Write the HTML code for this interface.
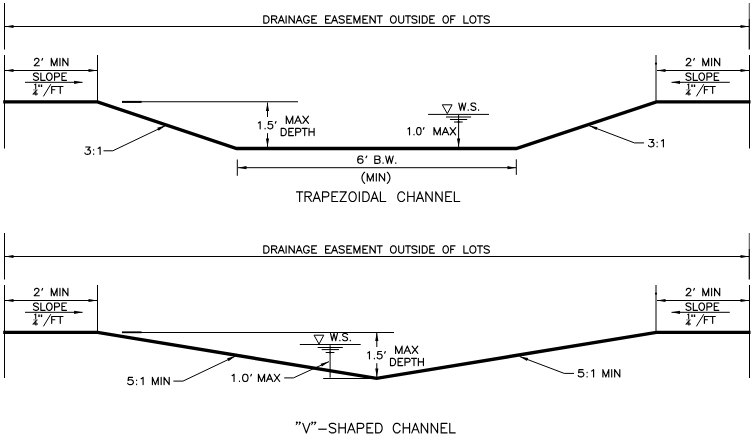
<!DOCTYPE html>
<html><head><meta charset="utf-8"><style>
html,body{margin:0;padding:0;background:#fff;width:753px;height:437px;overflow:hidden}
svg{display:block}
text{font-family:"Liberation Sans",sans-serif;fill:#000;font-kerning:none;text-rendering:geometricPrecision;stroke:#fff;stroke-width:0.25px;paint-order:fill stroke}
</style></head><body>
<svg width="753" height="437" viewBox="0 0 753 437">
<rect width="753" height="437" fill="#fff"/>
<line x1="4.50" y1="3.00" x2="4.50" y2="49.50" stroke="#000" stroke-width="1"/>
<line x1="749.30" y1="3.00" x2="749.30" y2="19.00" stroke="#555" stroke-width="1.1"/>
<line x1="749.30" y1="19.00" x2="749.30" y2="49.50" stroke="#000" stroke-width="1.2"/>
<line x1="5.00" y1="26.50" x2="749.00" y2="26.50" stroke="#000" stroke-width="1"/>
<path d="M5.00,26.50 L13.50,24.90 L13.50,28.10Z" fill="#000"/>
<path d="M749.00,26.50 L740.50,28.10 L740.50,24.90Z" fill="#000"/>
<path d="M263.80,15.84 L263.80,23.10M263.80,15.84 L266.40,15.84 L267.52,16.19 L268.26,16.88 L268.63,17.57 L269.01,18.61 L269.01,20.34 L268.63,21.37 L268.26,22.06 L267.52,22.75 L266.40,23.10 L263.80,23.10M271.61,15.84 L271.61,23.10M271.61,15.84 L274.95,15.84 L276.07,16.19 L276.44,16.54 L276.81,17.23 L276.81,17.92 L276.44,18.61 L276.07,18.95 L274.95,19.30 L271.61,19.30M274.21,19.30 L276.81,23.10M281.28,15.84 L278.30,23.10M281.28,15.84 L284.25,23.10M279.42,20.68 L283.14,20.68M286.11,15.84 L286.11,23.10M289.08,15.84 L289.08,23.10M289.08,15.84 L294.29,23.10M294.29,15.84 L294.29,23.10M299.12,15.84 L296.15,23.10M299.12,15.84 L302.10,23.10M297.26,20.68 L300.98,20.68M309.16,17.57 L308.79,16.88 L308.05,16.19 L307.30,15.84 L305.82,15.84 L305.07,16.19 L304.33,16.88 L303.96,17.57 L303.59,18.61 L303.59,20.34 L303.96,21.37 L304.33,22.06 L305.07,22.75 L305.82,23.10 L307.30,23.10 L308.05,22.75 L308.79,22.06 L309.16,21.37 L309.16,20.34M307.30,20.34 L309.16,20.34M311.77,15.84 L311.77,23.10M311.77,15.84 L316.60,15.84M311.77,19.30 L314.74,19.30M311.77,23.10 L316.60,23.10" fill="none" stroke="#000" stroke-width="1.15" stroke-linecap="round" stroke-linejoin="round"/>
<path d="M325.60,15.84 L325.60,23.10M325.60,15.84 L330.45,15.84M325.60,19.30 L328.58,19.30M325.60,23.10 L330.45,23.10M334.55,15.84 L331.57,23.10M334.55,15.84 L337.54,23.10M332.69,20.68 L336.42,20.68M344.25,16.88 L343.51,16.19 L342.39,15.84 L340.89,15.84 L339.78,16.19 L339.03,16.88 L339.03,17.57 L339.40,18.26 L339.78,18.61 L340.52,18.95 L342.76,19.64 L343.51,19.99 L343.88,20.34 L344.25,21.03 L344.25,22.06 L343.51,22.75 L342.39,23.10 L340.89,23.10 L339.78,22.75 L339.03,22.06M346.86,15.84 L346.86,23.10M346.86,15.84 L351.71,15.84M346.86,19.30 L349.85,19.30M346.86,23.10 L351.71,23.10M353.95,15.84 L353.95,23.10M353.95,15.84 L356.93,23.10M359.92,15.84 L356.93,23.10M359.92,15.84 L359.92,23.10M362.90,15.84 L362.90,23.10M362.90,15.84 L367.75,15.84M362.90,19.30 L365.89,19.30M362.90,23.10 L367.75,23.10M369.99,15.84 L369.99,23.10M369.99,15.84 L375.21,23.10M375.21,15.84 L375.21,23.10M379.69,15.84 L379.69,23.10M377.08,15.84 L382.30,15.84" fill="none" stroke="#000" stroke-width="1.15" stroke-linecap="round" stroke-linejoin="round"/>
<path d="M392.64,15.84 L391.93,16.19 L391.21,16.88 L390.86,17.57 L390.50,18.61 L390.50,20.34 L390.86,21.37 L391.21,22.06 L391.93,22.75 L392.64,23.10 L394.07,23.10 L394.78,22.75 L395.50,22.06 L395.85,21.37 L396.21,20.34 L396.21,18.61 L395.85,17.57 L395.50,16.88 L394.78,16.19 L394.07,15.84 L392.64,15.84M398.71,15.84 L398.71,21.03 L399.07,22.06 L399.78,22.75 L400.85,23.10 L401.56,23.10 L402.63,22.75 L403.35,22.06 L403.71,21.03 L403.71,15.84M407.99,15.84 L407.99,23.10M405.49,15.84 L410.49,15.84M416.91,16.88 L416.20,16.19 L415.13,15.84 L413.70,15.84 L412.63,16.19 L411.91,16.88 L411.91,17.57 L412.27,18.26 L412.63,18.61 L413.34,18.95 L415.48,19.64 L416.20,19.99 L416.55,20.34 L416.91,21.03 L416.91,22.06 L416.20,22.75 L415.13,23.10 L413.70,23.10 L412.63,22.75 L411.91,22.06M419.41,15.84 L419.41,23.10M422.27,15.84 L422.27,23.10M422.27,15.84 L424.76,15.84 L425.83,16.19 L426.55,16.88 L426.90,17.57 L427.26,18.61 L427.26,20.34 L426.90,21.37 L426.55,22.06 L425.83,22.75 L424.76,23.10 L422.27,23.10M429.76,15.84 L429.76,23.10M429.76,15.84 L434.40,15.84M429.76,19.30 L432.62,19.30M429.76,23.10 L434.40,23.10" fill="none" stroke="#000" stroke-width="1.15" stroke-linecap="round" stroke-linejoin="round"/>
<path d="M445.02,15.84 L444.34,16.19 L443.67,16.88 L443.34,17.57 L443.00,18.61 L443.00,20.34 L443.34,21.37 L443.67,22.06 L444.34,22.75 L445.02,23.10 L446.36,23.10 L447.03,22.75 L447.71,22.06 L448.04,21.37 L448.38,20.34 L448.38,18.61 L448.04,17.57 L447.71,16.88 L447.03,16.19 L446.36,15.84 L445.02,15.84M450.73,15.84 L450.73,23.10M450.73,15.84 L455.10,15.84M450.73,19.30 L453.42,19.30" fill="none" stroke="#000" stroke-width="1.15" stroke-linecap="round" stroke-linejoin="round"/>
<path d="M463.90,15.84 L463.90,23.10M463.90,23.10 L468.38,23.10M472.12,15.84 L471.37,16.19 L470.62,16.88 L470.25,17.57 L469.88,18.61 L469.88,20.34 L470.25,21.37 L470.62,22.06 L471.37,22.75 L472.12,23.10 L473.61,23.10 L474.36,22.75 L475.11,22.06 L475.48,21.37 L475.85,20.34 L475.85,18.61 L475.48,17.57 L475.11,16.88 L474.36,16.19 L473.61,15.84 L472.12,15.84M479.96,15.84 L479.96,23.10M477.35,15.84 L482.58,15.84M489.30,16.88 L488.55,16.19 L487.43,15.84 L485.94,15.84 L484.82,16.19 L484.07,16.88 L484.07,17.57 L484.44,18.26 L484.82,18.61 L485.56,18.95 L487.81,19.64 L488.55,19.99 L488.93,20.34 L489.30,21.03 L489.30,22.06 L488.55,22.75 L487.43,23.10 L485.94,23.10 L484.82,22.75 L484.07,22.06" fill="none" stroke="#000" stroke-width="1.15" stroke-linecap="round" stroke-linejoin="round"/>
<line x1="4.50" y1="55.00" x2="4.50" y2="148.50" stroke="#000" stroke-width="1"/>
<line x1="97.50" y1="55.00" x2="97.50" y2="101.60" stroke="#000" stroke-width="1"/>
<line x1="5.00" y1="70.50" x2="97.00" y2="70.50" stroke="#000" stroke-width="1"/>
<path d="M5.00,70.50 L13.50,68.90 L13.50,72.10Z" fill="#000"/>
<path d="M97.00,70.50 L88.50,72.10 L88.50,68.90Z" fill="#000"/>
<path d="M34.57,60.17 L34.57,59.83 L34.93,59.14 L35.30,58.79 L36.03,58.44 L37.49,58.44 L38.22,58.79 L38.58,59.14 L38.95,59.83 L38.95,60.52 L38.58,61.21 L37.85,62.24 L34.20,65.70 L39.31,65.70M42.60,58.44 L41.87,60.17" fill="none" stroke="#000" stroke-width="1.15" stroke-linecap="round" stroke-linejoin="round"/>
<path d="M51.30,58.44 L51.30,65.70M51.30,58.44 L54.19,65.70M57.07,58.44 L54.19,65.70M57.07,58.44 L57.07,65.70M59.96,58.44 L59.96,65.70M62.85,58.44 L62.85,65.70M62.85,58.44 L67.90,65.70M67.90,58.44 L67.90,65.70" fill="none" stroke="#000" stroke-width="1.15" stroke-linecap="round" stroke-linejoin="round"/>
<path d="M38.41,74.08 L37.71,73.39 L36.66,73.04 L35.26,73.04 L34.20,73.39 L33.50,74.08 L33.50,74.77 L33.85,75.46 L34.20,75.81 L34.90,76.15 L37.01,76.84 L37.71,77.19 L38.06,77.54 L38.41,78.23 L38.41,79.26 L37.71,79.95 L36.66,80.30 L35.26,80.30 L34.20,79.95 L33.50,79.26M40.87,73.04 L40.87,80.30M40.87,80.30 L45.09,80.30M48.60,73.04 L47.89,73.39 L47.19,74.08 L46.84,74.77 L46.49,75.81 L46.49,77.54 L46.84,78.57 L47.19,79.26 L47.89,79.95 L48.60,80.30 L50.00,80.30 L50.70,79.95 L51.40,79.26 L51.76,78.57 L52.11,77.54 L52.11,75.81 L51.76,74.77 L51.40,74.08 L50.70,73.39 L50.00,73.04 L48.60,73.04M54.56,73.04 L54.56,80.30M54.56,73.04 L57.72,73.04 L58.78,73.39 L59.13,73.74 L59.48,74.43 L59.48,75.46 L59.13,76.15 L58.78,76.50 L57.72,76.84 L54.56,76.84M61.94,73.04 L61.94,80.30M61.94,73.04 L66.50,73.04M61.94,76.50 L64.74,76.50M61.94,80.30 L66.50,80.30" fill="none" stroke="#000" stroke-width="1.15" stroke-linecap="round" stroke-linejoin="round"/>
<line x1="25.00" y1="82.30" x2="82.60" y2="82.30" stroke="#000" stroke-width="1"/>
<path d="M82.60,82.30 L74.10,83.90 L74.10,80.70Z" fill="#000"/>
<path transform="translate(0,0)" d="M34.3,84.9 L35.7,84.1 V89.3" fill="none" stroke="#000" stroke-width="1.05"/>
<path transform="translate(0,0)" d="M33.2,89.9 H37.9" fill="none" stroke="#555" stroke-width="0.8"/>
<path transform="translate(0,0)" d="M36.6,90.2 L33.3,94 H38 M35.9,91.6 V95.6" fill="none" stroke="#000" stroke-width="1.05"/>
<path transform="translate(0,0)" d="M39.0,84.4 V86.9 M41.5,84.4 V86.9" fill="none" stroke="#000" stroke-width="1.4"/>
<path transform="translate(0,0)" d="M43.4,96.4 L50.8,84.2" fill="none" stroke="#000" stroke-width="1.0"/>
<path d="M51.70,86.50 L51.70,93.30M51.70,86.50 L56.77,86.50M51.70,89.74 L54.82,89.74M60.27,86.50 L60.27,93.30M57.54,86.50 L63.00,86.50" fill="none" stroke="#000" stroke-width="1.15" stroke-linecap="round" stroke-linejoin="round"/>
<line x1="656.00" y1="55.00" x2="656.00" y2="101.60" stroke="#000" stroke-width="1"/>
<circle cx="656" cy="63.7" r="1.1" fill="#000"/>
<line x1="749.50" y1="55.00" x2="749.50" y2="148.50" stroke="#000" stroke-width="1"/>
<line x1="657.00" y1="70.50" x2="749.00" y2="70.50" stroke="#000" stroke-width="1"/>
<path d="M657.00,70.50 L665.50,68.90 L665.50,72.10Z" fill="#000"/>
<path d="M749.00,70.50 L740.50,72.10 L740.50,68.90Z" fill="#000"/>
<path d="M686.37,60.17 L686.37,59.83 L686.73,59.14 L687.10,58.79 L687.83,58.44 L689.29,58.44 L690.02,58.79 L690.38,59.14 L690.75,59.83 L690.75,60.52 L690.38,61.21 L689.65,62.24 L686.00,65.70 L691.11,65.70M694.40,58.44 L693.67,60.17" fill="none" stroke="#000" stroke-width="1.15" stroke-linecap="round" stroke-linejoin="round"/>
<path d="M702.80,58.44 L702.80,65.70M702.80,58.44 L705.74,65.70M708.68,58.44 L705.74,65.70M708.68,58.44 L708.68,65.70M711.62,58.44 L711.62,65.70M714.56,58.44 L714.56,65.70M714.56,58.44 L719.70,65.70M719.70,58.44 L719.70,65.70" fill="none" stroke="#000" stroke-width="1.15" stroke-linecap="round" stroke-linejoin="round"/>
<path d="M690.89,74.08 L690.19,73.39 L689.14,73.04 L687.74,73.04 L686.70,73.39 L686.00,74.08 L686.00,74.77 L686.35,75.46 L686.70,75.81 L687.40,76.15 L689.49,76.84 L690.19,77.19 L690.54,77.54 L690.89,78.23 L690.89,79.26 L690.19,79.95 L689.14,80.30 L687.74,80.30 L686.70,79.95 L686.00,79.26M693.33,73.04 L693.33,80.30M693.33,80.30 L697.51,80.30M701.00,73.04 L700.31,73.39 L699.61,74.08 L699.26,74.77 L698.91,75.81 L698.91,77.54 L699.26,78.57 L699.61,79.26 L700.31,79.95 L701.00,80.30 L702.40,80.30 L703.10,79.95 L703.80,79.26 L704.14,78.57 L704.49,77.54 L704.49,75.81 L704.14,74.77 L703.80,74.08 L703.10,73.39 L702.40,73.04 L701.00,73.04M706.94,73.04 L706.94,80.30M706.94,73.04 L710.08,73.04 L711.12,73.39 L711.47,73.74 L711.82,74.43 L711.82,75.46 L711.47,76.15 L711.12,76.50 L710.08,76.84 L706.94,76.84M714.26,73.04 L714.26,80.30M714.26,73.04 L718.80,73.04M714.26,76.50 L717.06,76.50M714.26,80.30 L718.80,80.30" fill="none" stroke="#000" stroke-width="1.15" stroke-linecap="round" stroke-linejoin="round"/>
<line x1="671.50" y1="82.30" x2="729.80" y2="82.30" stroke="#000" stroke-width="1"/>
<path d="M671.50,82.30 L680.00,80.70 L680.00,83.90Z" fill="#000"/>
<path transform="translate(653,0)" d="M34.3,84.9 L35.7,84.1 V89.3" fill="none" stroke="#000" stroke-width="1.05"/>
<path transform="translate(653,0)" d="M33.2,89.9 H37.9" fill="none" stroke="#555" stroke-width="0.8"/>
<path transform="translate(653,0)" d="M36.6,90.2 L33.3,94 H38 M35.9,91.6 V95.6" fill="none" stroke="#000" stroke-width="1.05"/>
<path transform="translate(653,0)" d="M39.0,84.4 V86.9 M41.5,84.4 V86.9" fill="none" stroke="#000" stroke-width="1.4"/>
<path transform="translate(653,0)" d="M43.4,96.4 L50.8,84.2" fill="none" stroke="#000" stroke-width="1.0"/>
<path d="M704.40,86.50 L704.40,93.30M704.40,86.50 L709.29,86.50M704.40,89.74 L707.41,89.74M712.67,86.50 L712.67,93.30M710.04,86.50 L715.30,86.50" fill="none" stroke="#000" stroke-width="1.15" stroke-linecap="round" stroke-linejoin="round"/>
<path d="M3.20,101.90 L97.50,101.90 L236.60,148.50 L516.30,148.50 L656.40,101.90 L750.50,101.90" fill="none" stroke="#000" stroke-width="3.4" stroke-linejoin="miter"/>
<line x1="122.00" y1="101.70" x2="298.00" y2="101.70" stroke="#000" stroke-width="1.1"/>
<line x1="122.00" y1="101.90" x2="141.60" y2="101.90" stroke="#000" stroke-width="2"/>
<line x1="267.50" y1="102.50" x2="267.50" y2="117.00" stroke="#000" stroke-width="1"/>
<path d="M267.50,102.50 L269.10,111.00 L265.90,111.00Z" fill="#000"/>
<line x1="267.50" y1="133.20" x2="267.50" y2="147.00" stroke="#000" stroke-width="1"/>
<path d="M267.50,147.00 L265.90,138.50 L269.10,138.50Z" fill="#000"/>
<path d="M258.40,122.93 L259.10,122.58 L260.16,121.54 L260.16,128.80M265.09,128.35 L265.09,128.80M272.13,121.54 L268.61,121.54 L268.26,124.65 L268.61,124.31 L269.66,123.96 L270.72,123.96 L271.78,124.31 L272.48,125.00 L272.83,126.04 L272.83,126.73 L272.48,127.76 L271.78,128.45 L270.72,128.80 L269.66,128.80 L268.61,128.45 L268.26,128.11 L267.90,127.42M276.00,121.54 L275.30,123.27" fill="none" stroke="#000" stroke-width="1.15" stroke-linecap="round" stroke-linejoin="round"/>
<path d="M286.30,116.14 L286.30,123.40M286.30,116.14 L289.53,123.40M292.76,116.14 L289.53,123.40M292.76,116.14 L292.76,123.40M298.01,116.14 L294.78,123.40M298.01,116.14 L301.23,123.40M295.99,120.98 L300.02,120.98M302.85,116.14 L308.50,123.40M308.50,116.14 L302.85,123.40" fill="none" stroke="#000" stroke-width="1.15" stroke-linecap="round" stroke-linejoin="round"/>
<path d="M281.20,128.34 L281.20,135.60M281.20,128.34 L283.73,128.34 L284.82,128.69 L285.54,129.38 L285.90,130.07 L286.26,131.11 L286.26,132.84 L285.90,133.87 L285.54,134.56 L284.82,135.25 L283.73,135.60 L281.20,135.60M288.79,128.34 L288.79,135.60M288.79,128.34 L293.49,128.34M288.79,131.80 L291.68,131.80M288.79,135.60 L293.49,135.60M295.66,128.34 L295.66,135.60M295.66,128.34 L298.92,128.34 L300.00,128.69 L300.36,129.04 L300.72,129.73 L300.72,130.76 L300.36,131.45 L300.00,131.80 L298.92,132.14 L295.66,132.14M304.70,128.34 L304.70,135.60M302.17,128.34 L307.23,128.34M309.04,128.34 L309.04,135.60M314.10,128.34 L314.10,135.60M309.04,131.80 L314.10,131.80" fill="none" stroke="#000" stroke-width="1.15" stroke-linecap="round" stroke-linejoin="round"/>
<path d="M442.30,104.80 L452.10,104.80 L447.30,113.60Z" fill="none" stroke="#000" stroke-width="1"/>
<path d="M458.80,103.04 L460.54,110.30M462.27,103.04 L460.54,110.30M462.27,103.04 L464.01,110.30M465.75,103.04 L464.01,110.30M468.18,109.85 L468.18,110.30M475.82,104.08 L475.13,103.39 L474.08,103.04 L472.69,103.04 L471.65,103.39 L470.96,104.08 L470.96,104.77 L471.31,105.46 L471.65,105.81 L472.35,106.15 L474.43,106.84 L475.13,107.19 L475.47,107.54 L475.82,108.23 L475.82,109.26 L475.13,109.95 L474.08,110.30 L472.69,110.30 L471.65,109.95 L470.96,109.26M478.60,109.85 L478.60,110.30" fill="none" stroke="#000" stroke-width="1.15" stroke-linecap="round" stroke-linejoin="round"/>
<line x1="428.10" y1="114.40" x2="489.00" y2="114.40" stroke="#000" stroke-width="1"/>
<line x1="446.00" y1="117.00" x2="471.10" y2="117.00" stroke="#000" stroke-width="1"/>
<line x1="450.00" y1="119.50" x2="467.20" y2="119.50" stroke="#000" stroke-width="1"/>
<line x1="454.00" y1="122.00" x2="462.70" y2="122.00" stroke="#000" stroke-width="1"/>
<circle cx="458.6" cy="122" r="1.1" fill="#000"/>
<line x1="458.60" y1="114.70" x2="458.60" y2="147.00" stroke="#000" stroke-width="1"/>
<path d="M458.60,147.00 L457.00,138.50 L460.20,138.50Z" fill="#000"/>
<path d="M407.90,128.93 L408.54,128.58 L409.51,127.54 L409.51,134.80M414.02,134.35 L414.02,134.80M418.53,127.54 L417.56,127.89 L416.92,128.93 L416.59,130.65 L416.59,131.69 L416.92,133.42 L417.56,134.45 L418.53,134.80 L419.17,134.80 L420.14,134.45 L420.78,133.42 L421.10,131.69 L421.10,130.65 L420.78,128.93 L420.14,127.89 L419.17,127.54 L418.53,127.54M424.00,127.54 L423.36,129.27" fill="none" stroke="#000" stroke-width="1.15" stroke-linecap="round" stroke-linejoin="round"/>
<path d="M434.00,127.54 L434.00,134.80M434.00,127.54 L437.16,134.80M440.31,127.54 L437.16,134.80M440.31,127.54 L440.31,134.80M445.44,127.54 L442.29,134.80M445.44,127.54 L448.60,134.80M443.47,132.38 L447.41,132.38M450.18,127.54 L455.70,134.80M455.70,127.54 L450.18,134.80" fill="none" stroke="#000" stroke-width="1.15" stroke-linecap="round" stroke-linejoin="round"/>
<path d="M362.66,157.08 L362.25,156.39 L361.01,156.04 L360.18,156.04 L358.94,156.39 L358.11,157.43 L357.70,159.15 L357.70,160.88 L358.11,162.26 L358.94,162.95 L360.18,163.30 L360.60,163.30 L361.84,162.95 L362.66,162.26 L363.08,161.23 L363.08,160.88 L362.66,159.84 L361.84,159.15 L360.60,158.81 L360.18,158.81 L358.94,159.15 L358.11,159.84 L357.70,160.88M366.80,156.04 L365.97,157.77" fill="none" stroke="#000" stroke-width="1.15" stroke-linecap="round" stroke-linejoin="round"/>
<path d="M374.80,156.04 L374.80,163.30M374.80,156.04 L378.18,156.04 L379.30,156.39 L379.68,156.74 L380.05,157.43 L380.05,158.12 L379.68,158.81 L379.30,159.15 L378.18,159.50M374.80,159.50 L378.18,159.50 L379.30,159.84 L379.68,160.19 L380.05,160.88 L380.05,161.92 L379.68,162.61 L379.30,162.95 L378.18,163.30 L374.80,163.30M383.05,162.85 L383.05,163.30M385.68,156.04 L387.55,163.30M389.43,156.04 L387.55,163.30M389.43,156.04 L391.30,163.30M393.18,156.04 L391.30,163.30M395.80,162.85 L395.80,163.30" fill="none" stroke="#000" stroke-width="1.15" stroke-linecap="round" stroke-linejoin="round"/>
<line x1="238.00" y1="167.70" x2="516.00" y2="167.70" stroke="#000" stroke-width="1"/>
<path d="M238.00,167.70 L246.50,166.10 L246.50,169.30Z" fill="#000"/>
<path d="M516.00,167.70 L507.50,169.30 L507.50,166.10Z" fill="#000"/>
<line x1="237.30" y1="159.50" x2="237.30" y2="175.80" stroke="#000" stroke-width="1"/>
<line x1="516.30" y1="159.30" x2="516.30" y2="174.90" stroke="#000" stroke-width="1"/>
<path d="M364.64,172.26 L363.89,172.95 L363.13,173.99 L362.38,175.37 L362.00,177.10 L362.00,178.48 L362.38,180.21 L363.13,181.59 L363.89,182.63 L364.64,183.32M367.28,173.64 L367.28,180.90M367.28,173.64 L370.29,180.90M373.31,173.64 L370.29,180.90M373.31,173.64 L373.31,180.90M376.33,173.64 L376.33,180.90M379.34,173.64 L379.34,180.90M379.34,173.64 L384.62,180.90M384.62,173.64 L384.62,180.90M387.26,172.26 L388.01,172.95 L388.77,173.99 L389.52,175.37 L389.90,177.10 L389.90,178.48 L389.52,180.21 L388.77,181.59 L388.01,182.63 L387.26,183.32" fill="none" stroke="#000" stroke-width="1.15" stroke-linecap="round" stroke-linejoin="round"/>
<path d="M299.64,191.90 L299.64,201.50M296.50,191.90 L302.78,191.90M305.03,191.90 L305.03,201.50M305.03,191.90 L309.06,191.90 L310.41,192.36 L310.86,192.82 L311.31,193.73 L311.31,194.65 L310.86,195.56 L310.41,196.02 L309.06,196.47 L305.03,196.47M308.17,196.47 L311.31,201.50M316.69,191.90 L313.10,201.50M316.69,191.90 L320.28,201.50M314.45,198.30 L318.94,198.30M322.53,191.90 L322.53,201.50M322.53,191.90 L326.57,191.90 L327.91,192.36 L328.36,192.82 L328.81,193.73 L328.81,195.10 L328.36,196.02 L327.91,196.47 L326.57,196.93 L322.53,196.93M331.95,191.90 L331.95,201.50M331.95,191.90 L337.78,191.90M331.95,196.47 L335.54,196.47M331.95,201.50 L337.78,201.50M346.31,191.90 L340.03,201.50M340.03,191.90 L346.31,191.90M340.03,201.50 L346.31,201.50M351.70,191.90 L350.80,192.36 L349.90,193.28 L349.45,194.19 L349.00,195.56 L349.00,197.84 L349.45,199.22 L349.90,200.13 L350.80,201.04 L351.70,201.50 L353.49,201.50 L354.39,201.04 L355.29,200.13 L355.73,199.22 L356.18,197.84 L356.18,195.56 L355.73,194.19 L355.29,193.28 L354.39,192.36 L353.49,191.90 L351.70,191.90M359.32,191.90 L359.32,201.50M362.91,191.90 L362.91,201.50M362.91,191.90 L366.06,191.90 L367.40,192.36 L368.30,193.28 L368.75,194.19 L369.20,195.56 L369.20,197.84 L368.75,199.22 L368.30,200.13 L367.40,201.04 L366.06,201.50 L362.91,201.50M374.58,191.90 L370.99,201.50M374.58,191.90 L378.17,201.50M372.34,198.30 L376.83,198.30M380.42,191.90 L380.42,201.50M380.42,201.50 L385.80,201.50" fill="none" stroke="#000" stroke-width="1.15" stroke-linecap="round" stroke-linejoin="round"/>
<path d="M404.59,194.19 L404.14,193.28 L403.23,192.36 L402.33,191.90 L400.52,191.90 L399.61,192.36 L398.71,193.28 L398.25,194.19 L397.80,195.56 L397.80,197.84 L398.25,199.22 L398.71,200.13 L399.61,201.04 L400.52,201.50 L402.33,201.50 L403.23,201.04 L404.14,200.13 L404.59,199.22M407.76,191.90 L407.76,201.50M414.09,191.90 L414.09,201.50M407.76,196.47 L414.09,196.47M419.98,191.90 L416.35,201.50M419.98,191.90 L423.60,201.50M417.71,198.30 L422.24,198.30M425.86,191.90 L425.86,201.50M425.86,191.90 L432.19,201.50M432.19,191.90 L432.19,201.50M435.81,191.90 L435.81,201.50M435.81,191.90 L442.15,201.50M442.15,191.90 L442.15,201.50M445.77,191.90 L445.77,201.50M445.77,191.90 L451.65,191.90M445.77,196.47 L449.39,196.47M445.77,201.50 L451.65,201.50M454.37,191.90 L454.37,201.50M454.37,201.50 L459.80,201.50" fill="none" stroke="#000" stroke-width="1.15" stroke-linecap="round" stroke-linejoin="round"/>
<line x1="103.50" y1="150.80" x2="112.80" y2="150.80" stroke="#000" stroke-width="1"/>
<line x1="112.80" y1="150.80" x2="165.60" y2="125.60" stroke="#000" stroke-width="1"/>
<path d="M165.60,125.60 L158.62,130.71 L157.24,127.82Z" fill="#000"/>
<path d="M85.70,147.04 L90.10,147.04 L87.70,149.81 L88.90,149.81 L89.70,150.15 L90.10,150.50 L90.50,151.54 L90.50,152.23 L90.10,153.26 L89.30,153.95 L88.10,154.30 L86.90,154.30 L85.70,153.95 L85.30,153.61 L84.90,152.92M93.70,149.67 L93.70,150.12M93.70,153.85 L93.70,154.30M98.10,148.43 L98.90,148.08 L100.10,147.04 L100.10,154.30" fill="none" stroke="#000" stroke-width="1.15" stroke-linecap="round" stroke-linejoin="round"/>
<line x1="644.00" y1="142.90" x2="634.40" y2="142.90" stroke="#000" stroke-width="1"/>
<line x1="634.40" y1="142.90" x2="589.00" y2="125.60" stroke="#000" stroke-width="1"/>
<path d="M589.00,125.60 L597.51,127.13 L596.37,130.12Z" fill="#000"/>
<path d="M649.28,139.54 L653.60,139.54 L651.24,142.31 L652.42,142.31 L653.21,142.65 L653.60,143.00 L653.99,144.04 L653.99,144.73 L653.60,145.76 L652.81,146.45 L651.64,146.80 L650.46,146.80 L649.28,146.45 L648.89,146.11 L648.50,145.42M657.13,142.17 L657.13,142.62M657.13,146.35 L657.13,146.80M661.44,140.93 L662.22,140.58 L663.40,139.54 L663.40,146.80" fill="none" stroke="#000" stroke-width="1.15" stroke-linecap="round" stroke-linejoin="round"/>
<line x1="4.50" y1="233.00" x2="4.50" y2="279.50" stroke="#000" stroke-width="1"/>
<line x1="749.30" y1="233.00" x2="749.30" y2="249.00" stroke="#555" stroke-width="1.1"/>
<line x1="749.30" y1="249.00" x2="749.30" y2="279.50" stroke="#000" stroke-width="1.2"/>
<line x1="5.00" y1="256.50" x2="749.00" y2="256.50" stroke="#000" stroke-width="1"/>
<path d="M5.00,256.50 L13.50,254.90 L13.50,258.10Z" fill="#000"/>
<path d="M749.00,256.50 L740.50,258.10 L740.50,254.90Z" fill="#000"/>
<path d="M263.80,245.84 L263.80,253.10M263.80,245.84 L266.40,245.84 L267.52,246.19 L268.26,246.88 L268.63,247.57 L269.01,248.61 L269.01,250.34 L268.63,251.37 L268.26,252.06 L267.52,252.75 L266.40,253.10 L263.80,253.10M271.61,245.84 L271.61,253.10M271.61,245.84 L274.95,245.84 L276.07,246.19 L276.44,246.54 L276.81,247.23 L276.81,247.92 L276.44,248.61 L276.07,248.95 L274.95,249.30 L271.61,249.30M274.21,249.30 L276.81,253.10M281.28,245.84 L278.30,253.10M281.28,245.84 L284.25,253.10M279.42,250.68 L283.14,250.68M286.11,245.84 L286.11,253.10M289.08,245.84 L289.08,253.10M289.08,245.84 L294.29,253.10M294.29,245.84 L294.29,253.10M299.12,245.84 L296.15,253.10M299.12,245.84 L302.10,253.10M297.26,250.68 L300.98,250.68M309.16,247.57 L308.79,246.88 L308.05,246.19 L307.30,245.84 L305.82,245.84 L305.07,246.19 L304.33,246.88 L303.96,247.57 L303.59,248.61 L303.59,250.34 L303.96,251.37 L304.33,252.06 L305.07,252.75 L305.82,253.10 L307.30,253.10 L308.05,252.75 L308.79,252.06 L309.16,251.37 L309.16,250.34M307.30,250.34 L309.16,250.34M311.77,245.84 L311.77,253.10M311.77,245.84 L316.60,245.84M311.77,249.30 L314.74,249.30M311.77,253.10 L316.60,253.10" fill="none" stroke="#000" stroke-width="1.15" stroke-linecap="round" stroke-linejoin="round"/>
<path d="M325.60,245.84 L325.60,253.10M325.60,245.84 L330.45,245.84M325.60,249.30 L328.58,249.30M325.60,253.10 L330.45,253.10M334.55,245.84 L331.57,253.10M334.55,245.84 L337.54,253.10M332.69,250.68 L336.42,250.68M344.25,246.88 L343.51,246.19 L342.39,245.84 L340.89,245.84 L339.78,246.19 L339.03,246.88 L339.03,247.57 L339.40,248.26 L339.78,248.61 L340.52,248.95 L342.76,249.64 L343.51,249.99 L343.88,250.34 L344.25,251.03 L344.25,252.06 L343.51,252.75 L342.39,253.10 L340.89,253.10 L339.78,252.75 L339.03,252.06M346.86,245.84 L346.86,253.10M346.86,245.84 L351.71,245.84M346.86,249.30 L349.85,249.30M346.86,253.10 L351.71,253.10M353.95,245.84 L353.95,253.10M353.95,245.84 L356.93,253.10M359.92,245.84 L356.93,253.10M359.92,245.84 L359.92,253.10M362.90,245.84 L362.90,253.10M362.90,245.84 L367.75,245.84M362.90,249.30 L365.89,249.30M362.90,253.10 L367.75,253.10M369.99,245.84 L369.99,253.10M369.99,245.84 L375.21,253.10M375.21,245.84 L375.21,253.10M379.69,245.84 L379.69,253.10M377.08,245.84 L382.30,245.84" fill="none" stroke="#000" stroke-width="1.15" stroke-linecap="round" stroke-linejoin="round"/>
<path d="M392.64,245.84 L391.93,246.19 L391.21,246.88 L390.86,247.57 L390.50,248.61 L390.50,250.34 L390.86,251.37 L391.21,252.06 L391.93,252.75 L392.64,253.10 L394.07,253.10 L394.78,252.75 L395.50,252.06 L395.85,251.37 L396.21,250.34 L396.21,248.61 L395.85,247.57 L395.50,246.88 L394.78,246.19 L394.07,245.84 L392.64,245.84M398.71,245.84 L398.71,251.03 L399.07,252.06 L399.78,252.75 L400.85,253.10 L401.56,253.10 L402.63,252.75 L403.35,252.06 L403.71,251.03 L403.71,245.84M407.99,245.84 L407.99,253.10M405.49,245.84 L410.49,245.84M416.91,246.88 L416.20,246.19 L415.13,245.84 L413.70,245.84 L412.63,246.19 L411.91,246.88 L411.91,247.57 L412.27,248.26 L412.63,248.61 L413.34,248.95 L415.48,249.64 L416.20,249.99 L416.55,250.34 L416.91,251.03 L416.91,252.06 L416.20,252.75 L415.13,253.10 L413.70,253.10 L412.63,252.75 L411.91,252.06M419.41,245.84 L419.41,253.10M422.27,245.84 L422.27,253.10M422.27,245.84 L424.76,245.84 L425.83,246.19 L426.55,246.88 L426.90,247.57 L427.26,248.61 L427.26,250.34 L426.90,251.37 L426.55,252.06 L425.83,252.75 L424.76,253.10 L422.27,253.10M429.76,245.84 L429.76,253.10M429.76,245.84 L434.40,245.84M429.76,249.30 L432.62,249.30M429.76,253.10 L434.40,253.10" fill="none" stroke="#000" stroke-width="1.15" stroke-linecap="round" stroke-linejoin="round"/>
<path d="M445.02,245.84 L444.34,246.19 L443.67,246.88 L443.34,247.57 L443.00,248.61 L443.00,250.34 L443.34,251.37 L443.67,252.06 L444.34,252.75 L445.02,253.10 L446.36,253.10 L447.03,252.75 L447.71,252.06 L448.04,251.37 L448.38,250.34 L448.38,248.61 L448.04,247.57 L447.71,246.88 L447.03,246.19 L446.36,245.84 L445.02,245.84M450.73,245.84 L450.73,253.10M450.73,245.84 L455.10,245.84M450.73,249.30 L453.42,249.30" fill="none" stroke="#000" stroke-width="1.15" stroke-linecap="round" stroke-linejoin="round"/>
<path d="M463.90,245.84 L463.90,253.10M463.90,253.10 L468.38,253.10M472.12,245.84 L471.37,246.19 L470.62,246.88 L470.25,247.57 L469.88,248.61 L469.88,250.34 L470.25,251.37 L470.62,252.06 L471.37,252.75 L472.12,253.10 L473.61,253.10 L474.36,252.75 L475.11,252.06 L475.48,251.37 L475.85,250.34 L475.85,248.61 L475.48,247.57 L475.11,246.88 L474.36,246.19 L473.61,245.84 L472.12,245.84M479.96,245.84 L479.96,253.10M477.35,245.84 L482.58,245.84M489.30,246.88 L488.55,246.19 L487.43,245.84 L485.94,245.84 L484.82,246.19 L484.07,246.88 L484.07,247.57 L484.44,248.26 L484.82,248.61 L485.56,248.95 L487.81,249.64 L488.55,249.99 L488.93,250.34 L489.30,251.03 L489.30,252.06 L488.55,252.75 L487.43,253.10 L485.94,253.10 L484.82,252.75 L484.07,252.06" fill="none" stroke="#000" stroke-width="1.15" stroke-linecap="round" stroke-linejoin="round"/>
<line x1="4.50" y1="285.00" x2="4.50" y2="378.00" stroke="#000" stroke-width="1"/>
<line x1="97.50" y1="285.00" x2="97.50" y2="331.60" stroke="#000" stroke-width="1"/>
<line x1="5.00" y1="300.50" x2="97.00" y2="300.50" stroke="#000" stroke-width="1"/>
<path d="M5.00,300.50 L13.50,298.90 L13.50,302.10Z" fill="#000"/>
<path d="M97.00,300.50 L88.50,302.10 L88.50,298.90Z" fill="#000"/>
<path d="M34.57,290.17 L34.57,289.83 L34.93,289.14 L35.30,288.79 L36.03,288.44 L37.49,288.44 L38.22,288.79 L38.58,289.14 L38.95,289.83 L38.95,290.52 L38.58,291.21 L37.85,292.24 L34.20,295.70 L39.31,295.70M42.60,288.44 L41.87,290.17" fill="none" stroke="#000" stroke-width="1.15" stroke-linecap="round" stroke-linejoin="round"/>
<path d="M51.30,288.44 L51.30,295.70M51.30,288.44 L54.19,295.70M57.07,288.44 L54.19,295.70M57.07,288.44 L57.07,295.70M59.96,288.44 L59.96,295.70M62.85,288.44 L62.85,295.70M62.85,288.44 L67.90,295.70M67.90,288.44 L67.90,295.70" fill="none" stroke="#000" stroke-width="1.15" stroke-linecap="round" stroke-linejoin="round"/>
<path d="M38.41,304.08 L37.71,303.39 L36.66,303.04 L35.26,303.04 L34.20,303.39 L33.50,304.08 L33.50,304.77 L33.85,305.46 L34.20,305.81 L34.90,306.15 L37.01,306.84 L37.71,307.19 L38.06,307.54 L38.41,308.23 L38.41,309.26 L37.71,309.95 L36.66,310.30 L35.26,310.30 L34.20,309.95 L33.50,309.26M40.87,303.04 L40.87,310.30M40.87,310.30 L45.09,310.30M48.60,303.04 L47.89,303.39 L47.19,304.08 L46.84,304.77 L46.49,305.81 L46.49,307.54 L46.84,308.57 L47.19,309.26 L47.89,309.95 L48.60,310.30 L50.00,310.30 L50.70,309.95 L51.40,309.26 L51.76,308.57 L52.11,307.54 L52.11,305.81 L51.76,304.77 L51.40,304.08 L50.70,303.39 L50.00,303.04 L48.60,303.04M54.56,303.04 L54.56,310.30M54.56,303.04 L57.72,303.04 L58.78,303.39 L59.13,303.74 L59.48,304.43 L59.48,305.46 L59.13,306.15 L58.78,306.50 L57.72,306.84 L54.56,306.84M61.94,303.04 L61.94,310.30M61.94,303.04 L66.50,303.04M61.94,306.50 L64.74,306.50M61.94,310.30 L66.50,310.30" fill="none" stroke="#000" stroke-width="1.15" stroke-linecap="round" stroke-linejoin="round"/>
<line x1="25.00" y1="312.30" x2="82.60" y2="312.30" stroke="#000" stroke-width="1"/>
<path d="M82.60,312.30 L74.10,313.90 L74.10,310.70Z" fill="#000"/>
<path transform="translate(0,230)" d="M34.3,84.9 L35.7,84.1 V89.3" fill="none" stroke="#000" stroke-width="1.05"/>
<path transform="translate(0,230)" d="M33.2,89.9 H37.9" fill="none" stroke="#555" stroke-width="0.8"/>
<path transform="translate(0,230)" d="M36.6,90.2 L33.3,94 H38 M35.9,91.6 V95.6" fill="none" stroke="#000" stroke-width="1.05"/>
<path transform="translate(0,230)" d="M39.0,84.4 V86.9 M41.5,84.4 V86.9" fill="none" stroke="#000" stroke-width="1.4"/>
<path transform="translate(0,230)" d="M43.4,96.4 L50.8,84.2" fill="none" stroke="#000" stroke-width="1.0"/>
<path d="M51.70,316.50 L51.70,323.30M51.70,316.50 L56.77,316.50M51.70,319.74 L54.82,319.74M60.27,316.50 L60.27,323.30M57.54,316.50 L63.00,316.50" fill="none" stroke="#000" stroke-width="1.15" stroke-linecap="round" stroke-linejoin="round"/>
<line x1="656.00" y1="285.00" x2="656.00" y2="331.60" stroke="#000" stroke-width="1"/>
<circle cx="656" cy="293.7" r="1.1" fill="#000"/>
<line x1="749.50" y1="285.00" x2="749.50" y2="378.00" stroke="#000" stroke-width="1"/>
<line x1="657.00" y1="300.50" x2="749.00" y2="300.50" stroke="#000" stroke-width="1"/>
<path d="M657.00,300.50 L665.50,298.90 L665.50,302.10Z" fill="#000"/>
<path d="M749.00,300.50 L740.50,302.10 L740.50,298.90Z" fill="#000"/>
<path d="M686.37,290.17 L686.37,289.83 L686.73,289.14 L687.10,288.79 L687.83,288.44 L689.29,288.44 L690.02,288.79 L690.38,289.14 L690.75,289.83 L690.75,290.52 L690.38,291.21 L689.65,292.24 L686.00,295.70 L691.11,295.70M694.40,288.44 L693.67,290.17" fill="none" stroke="#000" stroke-width="1.15" stroke-linecap="round" stroke-linejoin="round"/>
<path d="M702.80,288.44 L702.80,295.70M702.80,288.44 L705.74,295.70M708.68,288.44 L705.74,295.70M708.68,288.44 L708.68,295.70M711.62,288.44 L711.62,295.70M714.56,288.44 L714.56,295.70M714.56,288.44 L719.70,295.70M719.70,288.44 L719.70,295.70" fill="none" stroke="#000" stroke-width="1.15" stroke-linecap="round" stroke-linejoin="round"/>
<path d="M690.89,304.08 L690.19,303.39 L689.14,303.04 L687.74,303.04 L686.70,303.39 L686.00,304.08 L686.00,304.77 L686.35,305.46 L686.70,305.81 L687.40,306.15 L689.49,306.84 L690.19,307.19 L690.54,307.54 L690.89,308.23 L690.89,309.26 L690.19,309.95 L689.14,310.30 L687.74,310.30 L686.70,309.95 L686.00,309.26M693.33,303.04 L693.33,310.30M693.33,310.30 L697.51,310.30M701.00,303.04 L700.31,303.39 L699.61,304.08 L699.26,304.77 L698.91,305.81 L698.91,307.54 L699.26,308.57 L699.61,309.26 L700.31,309.95 L701.00,310.30 L702.40,310.30 L703.10,309.95 L703.80,309.26 L704.14,308.57 L704.49,307.54 L704.49,305.81 L704.14,304.77 L703.80,304.08 L703.10,303.39 L702.40,303.04 L701.00,303.04M706.94,303.04 L706.94,310.30M706.94,303.04 L710.08,303.04 L711.12,303.39 L711.47,303.74 L711.82,304.43 L711.82,305.46 L711.47,306.15 L711.12,306.50 L710.08,306.84 L706.94,306.84M714.26,303.04 L714.26,310.30M714.26,303.04 L718.80,303.04M714.26,306.50 L717.06,306.50M714.26,310.30 L718.80,310.30" fill="none" stroke="#000" stroke-width="1.15" stroke-linecap="round" stroke-linejoin="round"/>
<line x1="671.50" y1="312.30" x2="729.80" y2="312.30" stroke="#000" stroke-width="1"/>
<path d="M671.50,312.30 L680.00,310.70 L680.00,313.90Z" fill="#000"/>
<path transform="translate(653,230)" d="M34.3,84.9 L35.7,84.1 V89.3" fill="none" stroke="#000" stroke-width="1.05"/>
<path transform="translate(653,230)" d="M33.2,89.9 H37.9" fill="none" stroke="#555" stroke-width="0.8"/>
<path transform="translate(653,230)" d="M36.6,90.2 L33.3,94 H38 M35.9,91.6 V95.6" fill="none" stroke="#000" stroke-width="1.05"/>
<path transform="translate(653,230)" d="M39.0,84.4 V86.9 M41.5,84.4 V86.9" fill="none" stroke="#000" stroke-width="1.4"/>
<path transform="translate(653,230)" d="M43.4,96.4 L50.8,84.2" fill="none" stroke="#000" stroke-width="1.0"/>
<path d="M704.40,316.50 L704.40,323.30M704.40,316.50 L709.29,316.50M704.40,319.74 L707.41,319.74M712.67,316.50 L712.67,323.30M710.04,316.50 L715.30,316.50" fill="none" stroke="#000" stroke-width="1.15" stroke-linecap="round" stroke-linejoin="round"/>
<path d="M3.20,332.40 L97.50,332.40 L376.60,378.40 L656.40,332.40 L750.50,332.40" fill="none" stroke="#000" stroke-width="3.4" stroke-linejoin="miter"/>
<line x1="122.00" y1="332.50" x2="394.00" y2="332.50" stroke="#000" stroke-width="1"/>
<line x1="122.00" y1="332.30" x2="141.60" y2="332.30" stroke="#000" stroke-width="1.8"/>
<line x1="376.80" y1="332.50" x2="376.80" y2="347.00" stroke="#000" stroke-width="1"/>
<path d="M376.80,332.50 L378.40,341.00 L375.20,341.00Z" fill="#000"/>
<line x1="376.80" y1="363.20" x2="376.80" y2="377.00" stroke="#000" stroke-width="1"/>
<path d="M376.80,377.00 L375.20,368.50 L378.40,368.50Z" fill="#000"/>
<path d="M367.70,352.93 L368.40,352.58 L369.46,351.54 L369.46,358.80M374.39,358.35 L374.39,358.80M381.43,351.54 L377.91,351.54 L377.56,354.65 L377.91,354.31 L378.96,353.96 L380.02,353.96 L381.08,354.31 L381.78,355.00 L382.13,356.04 L382.13,356.73 L381.78,357.76 L381.08,358.45 L380.02,358.80 L378.96,358.80 L377.91,358.45 L377.56,358.11 L377.20,357.42M385.30,351.54 L384.60,353.27" fill="none" stroke="#000" stroke-width="1.15" stroke-linecap="round" stroke-linejoin="round"/>
<path d="M395.60,346.14 L395.60,353.40M395.60,346.14 L398.83,353.40M402.06,346.14 L398.83,353.40M402.06,346.14 L402.06,353.40M407.31,346.14 L404.08,353.40M407.31,346.14 L410.53,353.40M405.29,350.98 L409.32,350.98M412.15,346.14 L417.80,353.40M417.80,346.14 L412.15,353.40" fill="none" stroke="#000" stroke-width="1.15" stroke-linecap="round" stroke-linejoin="round"/>
<path d="M390.50,358.34 L390.50,365.60M390.50,358.34 L393.03,358.34 L394.12,358.69 L394.84,359.38 L395.20,360.07 L395.56,361.11 L395.56,362.84 L395.20,363.87 L394.84,364.56 L394.12,365.25 L393.03,365.60 L390.50,365.60M398.09,358.34 L398.09,365.60M398.09,358.34 L402.79,358.34M398.09,361.80 L400.98,361.80M398.09,365.60 L402.79,365.60M404.96,358.34 L404.96,365.60M404.96,358.34 L408.22,358.34 L409.30,358.69 L409.66,359.04 L410.02,359.73 L410.02,360.76 L409.66,361.45 L409.30,361.80 L408.22,362.14 L404.96,362.14M414.00,358.34 L414.00,365.60M411.47,358.34 L416.53,358.34M418.34,358.34 L418.34,365.60M423.40,358.34 L423.40,365.60M418.34,361.80 L423.40,361.80" fill="none" stroke="#000" stroke-width="1.15" stroke-linecap="round" stroke-linejoin="round"/>
<path d="M314.00,335.20 L323.80,335.20 L319.00,344.00Z" fill="none" stroke="#000" stroke-width="1"/>
<path d="M330.50,333.44 L332.24,340.70M333.97,333.44 L332.24,340.70M333.97,333.44 L335.71,340.70M337.45,333.44 L335.71,340.70M339.88,340.25 L339.88,340.70M347.52,334.48 L346.83,333.79 L345.78,333.44 L344.39,333.44 L343.35,333.79 L342.66,334.48 L342.66,335.17 L343.01,335.86 L343.35,336.21 L344.05,336.55 L346.13,337.24 L346.83,337.59 L347.17,337.94 L347.52,338.63 L347.52,339.66 L346.83,340.35 L345.78,340.70 L344.39,340.70 L343.35,340.35 L342.66,339.66M350.30,340.25 L350.30,340.70" fill="none" stroke="#000" stroke-width="1.15" stroke-linecap="round" stroke-linejoin="round"/>
<line x1="299.80" y1="344.50" x2="360.70" y2="344.50" stroke="#000" stroke-width="1"/>
<line x1="317.70" y1="347.50" x2="342.80" y2="347.50" stroke="#000" stroke-width="1"/>
<line x1="321.70" y1="349.60" x2="338.90" y2="349.60" stroke="#000" stroke-width="1"/>
<line x1="325.70" y1="352.50" x2="334.40" y2="352.50" stroke="#000" stroke-width="1"/>
<circle cx="330.1" cy="352.5" r="1.1" fill="#000"/>
<line x1="330.10" y1="345.20" x2="330.10" y2="377.70" stroke="#000" stroke-width="1"/>
<line x1="323.20" y1="378.50" x2="375.00" y2="378.50" stroke="#000" stroke-width="1"/>
<path d="M232.10,375.63 L232.88,375.28 L234.04,374.24 L234.04,381.50M239.47,381.05 L239.47,381.50M244.90,374.24 L243.74,374.59 L242.96,375.63 L242.58,377.35 L242.58,378.39 L242.96,380.12 L243.74,381.15 L244.90,381.50 L245.68,381.50 L246.84,381.15 L247.62,380.12 L248.01,378.39 L248.01,377.35 L247.62,375.63 L246.84,374.59 L245.68,374.24 L244.90,374.24M251.50,374.24 L250.72,375.97" fill="none" stroke="#000" stroke-width="1.15" stroke-linecap="round" stroke-linejoin="round"/>
<path d="M258.40,374.24 L258.40,381.50M258.40,374.24 L261.50,381.50M264.60,374.24 L261.50,381.50M264.60,374.24 L264.60,381.50M269.63,374.24 L266.53,381.50M269.63,374.24 L272.73,381.50M267.69,379.08 L271.57,379.08M274.28,374.24 L279.70,381.50M279.70,374.24 L274.28,381.50" fill="none" stroke="#000" stroke-width="1.15" stroke-linecap="round" stroke-linejoin="round"/>
<line x1="284.20" y1="377.90" x2="293.40" y2="377.90" stroke="#000" stroke-width="1"/>
<line x1="293.40" y1="377.90" x2="329.00" y2="361.60" stroke="#000" stroke-width="1"/>
<path d="M329.00,361.60 L321.94,366.59 L320.61,363.68Z" fill="#000"/>
<path d="M132.56,377.34 L128.51,377.34 L128.11,380.45 L128.51,380.11 L129.73,379.76 L130.94,379.76 L132.16,380.11 L132.97,380.80 L133.37,381.84 L133.37,382.53 L132.97,383.56 L132.16,384.25 L130.94,384.60 L129.73,384.60 L128.51,384.25 L128.11,383.91 L127.70,383.22M136.62,379.97 L136.62,380.42M136.62,384.15 L136.62,384.60M141.07,378.73 L141.88,378.38 L143.10,377.34 L143.10,384.60" fill="none" stroke="#000" stroke-width="1.15" stroke-linecap="round" stroke-linejoin="round"/>
<path d="M152.40,377.34 L152.40,384.60M152.40,377.34 L155.32,384.60M158.24,377.34 L155.32,384.60M158.24,377.34 L158.24,384.60M161.17,377.34 L161.17,384.60M164.09,377.34 L164.09,384.60M164.09,377.34 L169.20,384.60M169.20,377.34 L169.20,384.60" fill="none" stroke="#000" stroke-width="1.15" stroke-linecap="round" stroke-linejoin="round"/>
<line x1="173.40" y1="381.10" x2="183.00" y2="381.10" stroke="#000" stroke-width="1"/>
<line x1="183.00" y1="381.10" x2="235.50" y2="356.10" stroke="#000" stroke-width="1"/>
<path d="M235.50,356.10 L228.51,361.20 L227.14,358.31Z" fill="#000"/>
<path d="M583.06,369.64 L579.01,369.64 L578.61,372.75 L579.01,372.41 L580.23,372.06 L581.44,372.06 L582.66,372.41 L583.47,373.10 L583.87,374.14 L583.87,374.83 L583.47,375.86 L582.66,376.55 L581.44,376.90 L580.23,376.90 L579.01,376.55 L578.61,376.21 L578.20,375.52M587.12,372.27 L587.12,372.72M587.12,376.45 L587.12,376.90M591.57,371.03 L592.38,370.68 L593.60,369.64 L593.60,376.90" fill="none" stroke="#000" stroke-width="1.15" stroke-linecap="round" stroke-linejoin="round"/>
<path d="M602.90,369.64 L602.90,376.90M602.90,369.64 L605.84,376.90M608.78,369.64 L605.84,376.90M608.78,369.64 L608.78,376.90M611.72,369.64 L611.72,376.90M614.66,369.64 L614.66,376.90M614.66,369.64 L619.80,376.90M619.80,369.64 L619.80,376.90" fill="none" stroke="#000" stroke-width="1.15" stroke-linecap="round" stroke-linejoin="round"/>
<line x1="574.00" y1="373.40" x2="564.20" y2="373.40" stroke="#000" stroke-width="1"/>
<line x1="564.20" y1="373.40" x2="519.60" y2="356.50" stroke="#000" stroke-width="1"/>
<path d="M519.60,356.50 L528.12,358.02 L526.98,361.01Z" fill="#000"/>
<circle cx="296.80" cy="422.40" r="1.0" fill="#000"/><path d="M297.50,422.60 L296.20,424.80" stroke="#000" stroke-width="0.9" stroke-linecap="round"/>
<circle cx="299.70" cy="422.40" r="1.0" fill="#000"/><path d="M300.40,422.60 L299.10,424.80" stroke="#000" stroke-width="0.9" stroke-linecap="round"/>
<path d="M302.80,423.30 L306.35,432.90M309.90,423.30 L306.35,432.90" fill="none" stroke="#000" stroke-width="1.15" stroke-linecap="round" stroke-linejoin="round"/>
<circle cx="312.20" cy="422.40" r="1.0" fill="#000"/><path d="M312.90,422.60 L311.60,424.80" stroke="#000" stroke-width="0.9" stroke-linecap="round"/>
<circle cx="315.10" cy="422.40" r="1.0" fill="#000"/><path d="M315.80,422.60 L314.50,424.80" stroke="#000" stroke-width="0.9" stroke-linecap="round"/>
<line x1="318.30" y1="429.20" x2="326.70" y2="429.20" stroke="#000" stroke-width="1.2"/>
<path d="M335.73,424.68 L334.81,423.76 L333.43,423.30 L331.60,423.30 L330.22,423.76 L329.30,424.68 L329.30,425.59 L329.76,426.50 L330.22,426.96 L331.14,427.42 L333.89,428.33 L334.81,428.79 L335.27,429.24 L335.73,430.16 L335.73,431.53 L334.81,432.44 L333.43,432.90 L331.60,432.90 L330.22,432.44 L329.30,431.53M338.94,423.30 L338.94,432.90M345.37,423.30 L345.37,432.90M338.94,427.87 L345.37,427.87M351.34,423.30 L347.67,432.90M351.34,423.30 L355.01,432.90M349.04,429.70 L353.63,429.70M357.31,423.30 L357.31,432.90M357.31,423.30 L361.44,423.30 L362.82,423.76 L363.28,424.22 L363.73,425.13 L363.73,426.50 L363.28,427.42 L362.82,427.87 L361.44,428.33 L357.31,428.33M366.95,423.30 L366.95,432.90M366.95,423.30 L372.92,423.30M366.95,427.87 L370.62,427.87M366.95,432.90 L372.92,432.90M375.67,423.30 L375.67,432.90M375.67,423.30 L378.89,423.30 L380.26,423.76 L381.18,424.68 L381.64,425.59 L382.10,426.96 L382.10,429.24 L381.64,430.62 L381.18,431.53 L380.26,432.44 L378.89,432.90 L375.67,432.90" fill="none" stroke="#000" stroke-width="1.15" stroke-linecap="round" stroke-linejoin="round"/>
<path d="M400.08,425.59 L399.63,424.68 L398.72,423.76 L397.82,423.30 L396.01,423.30 L395.11,423.76 L394.20,424.68 L393.75,425.59 L393.30,426.96 L393.30,429.24 L393.75,430.62 L394.20,431.53 L395.11,432.44 L396.01,432.90 L397.82,432.90 L398.72,432.44 L399.63,431.53 L400.08,430.62M403.24,423.30 L403.24,432.90M409.57,423.30 L409.57,432.90M403.24,427.87 L409.57,427.87M415.44,423.30 L411.82,432.90M415.44,423.30 L419.05,432.90M413.18,429.70 L417.70,429.70M421.31,423.30 L421.31,432.90M421.31,423.30 L427.64,432.90M427.64,423.30 L427.64,432.90M431.25,423.30 L431.25,432.90M431.25,423.30 L437.58,432.90M437.58,423.30 L437.58,432.90M441.19,423.30 L441.19,432.90M441.19,423.30 L447.07,423.30M441.19,427.87 L444.81,427.87M441.19,432.90 L447.07,432.90M449.78,423.30 L449.78,432.90M449.78,432.90 L455.20,432.90" fill="none" stroke="#000" stroke-width="1.15" stroke-linecap="round" stroke-linejoin="round"/>
</svg></body></html>
